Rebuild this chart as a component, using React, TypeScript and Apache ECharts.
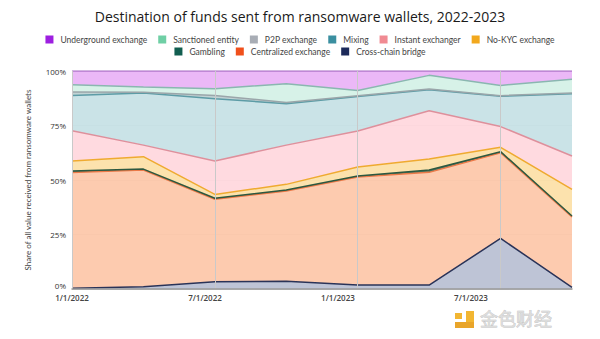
import React, { useEffect, useRef } from "react";
import * as echarts from "echarts";

const categories = ["2022-01", "2022-04", "2022-07", "2022-10", "2023-01", "2023-04", "2023-07", "2023-10"];
const tickLabels = ["1/1/2022", "7/1/2022", "1/1/2023", "7/1/2023"];
const yTicks = ["0%", "25%", "50%", "75%", "100%"];

const crossChain = [0.3, 1.0, 3.3, 3.6, 1.8, 1.8, 23.2, 0.8];
const centralized = [53.1, 53.6, 37.9, 41.4, 49.6, 51.7, 39.3, 32.2];
const gambling = [0.7, 0.4, 0.4, 0.4, 0.4, 1.1, 0.5, 0.5];
const noKyc = [4.6, 5.7, 1.8, 2.6, 4.2, 5.0, 2.0, 12.2];
const instant = [13.9, 5.3, 15.3, 18.0, 16.5, 22.2, 9.5, 15.3];
const mixing = [16.2, 23.9, 28.6, 19.0, 15.8, 9.6, 13.9, 28.6];
const p2p = [1.6, 0.3, 1.5, 0.5, 0.3, 0.3, 0.3, 0.3];
const sanctioned = [3.3, 2.5, 3.1, 8.7, 2.5, 6.3, 4.7, 6.3];
const underground = [6.3, 7.3, 8.1, 5.8, 8.9, 2.0, 6.6, 3.8];

const seriesDefs = [
  { name: "Cross-chain bridge", data: crossChain, legend: "#1c2a5a", line: "#2a3358", fill: "#b9bfd3" },
  { name: "Centralized exchange", data: centralized, legend: "#f0501c", line: "#ec7a48", fill: "#fdc7a8" },
  { name: "Gambling", data: gambling, legend: "#125e50", line: "#2c5840", fill: "#3d6a55" },
  { name: "No-KYC exchange", data: noKyc, legend: "#f2a81d", line: "#efaa30", fill: "#fce0a6" },
  { name: "Instant exchanger", data: instant, legend: "#f08a92", line: "#de909c", fill: "#ffd7dd" },
  { name: "Mixing", data: mixing, legend: "#3a8fa0", line: "#5d9ca6", fill: "#c6e1e5" },
  { name: "P2P exchange", data: p2p, legend: "#a8adb5", line: "#9aa6aa", fill: "#bccfd0" },
  { name: "Sanctioned entity", data: sanctioned, legend: "#6fcfa5", line: "#8ab7b0", fill: "#d4f1e6" },
  { name: "Underground exchange", data: underground, legend: "#9d1fe0", line: "#b27acb", fill: "#e9b2f6" },
];

const legendRow1 = ["Underground exchange", "Sanctioned entity", "P2P exchange", "Mixing", "Instant exchanger", "No-KYC exchange"];
const legendRow2 = ["Gambling", "Centralized exchange", "Cross-chain bridge"];

const FONT = "'Open Sans', 'Noto Sans', sans-serif";
const LFONT = "Lato, 'Open Sans', sans-serif";

export default function App() {
  const ref = useRef<HTMLDivElement>(null);
  useEffect(() => {
    if (!ref.current) return;
    const chart = echarts.init(ref.current, undefined, { renderer: "svg" });
    const legendItem = (n: string) => {
      const d = seriesDefs.find((s) => s.name === n)!;
      return { name: n, itemStyle: { color: d.legend, borderWidth: 0 } };
    };
    const legendCommon = {
      icon: "rect",
      itemWidth: 8,
      itemHeight: 8,
      itemGap: 11,
      textStyle: { fontSize: 8.5, color: "#444", fontFamily: LFONT, padding: [0, 0, 0, 2] },
      left: "center",
    };
    chart.setOption({
      animation: false,
      backgroundColor: "#ffffff",
      title: {
        text: "Destination of funds sent from ransomware wallets, 2022-2023",
        left: "center",
        top: 4,
        textStyle: { fontSize: 14, fontWeight: "normal", color: "#1a1a1a", fontFamily: FONT },
      },
      legend: [
        { ...legendCommon, top: 30, data: legendRow1.map(legendItem) },
        { ...legendCommon, top: 42, data: legendRow2.map(legendItem) },
      ],
      grid: { left: 72, right: 28, top: 71, bottom: 50 },
      xAxis: [
        {
          type: "category",
          data: categories,
          boundaryGap: false,
          axisLine: { show: true, lineStyle: { color: "#9a9a9a", width: 1.5 } },
          axisTick: { show: false },
          axisLabel: { show: false },
          splitLine: { show: true, interval: 1, lineStyle: { color: "#c9c9c9", width: 1 } },
          z: 5,
        },
        {
          type: "value",
          position: "bottom",
          min: 0,
          max: 3.76,
          interval: 1,
          axisLine: { show: false },
          axisTick: { show: false },
          splitLine: { show: false },
          axisLabel: {
            show: true,
            margin: 4,
            fontSize: 8,
            color: "#444",
            fontWeight: 600,
            fontFamily: FONT,
            formatter: (v: number) => (Number.isInteger(v) && tickLabels[v] ? tickLabels[v] : ""),
            showMaxLabel: false,
          },
        },
      ],
      yAxis: {
        type: "value",
        min: 0,
        max: 100,
        interval: 25,
        name: "Share of all value received from ransomware wallets",
        nameLocation: "middle",
        nameGap: 40,
        nameTextStyle: { fontSize: 8, color: "#444", fontFamily: LFONT },
        axisLine: { show: false },
        axisTick: { show: false },
        axisLabel: {
          fontSize: 8,
          color: "#333",
          margin: 6,
          fontFamily: FONT,
          formatter: (v: number) => (v === 0 ? "{z|0%}" : yTicks[Math.round(v / 25)]),
          rich: { z: { fontSize: 8, color: "#333", fontFamily: FONT, padding: [0, 0, 7, 0] } },
        },
        splitLine: { show: true, lineStyle: { color: "#d0d0d0", width: 1 } },
      },
      series: seriesDefs.map((s) => ({
        name: s.name,
        type: "line",
        stack: "total",
        xAxisIndex: 0,
        data: s.data,
        showSymbol: false,
        symbol: "none",
        itemStyle: { color: s.legend },
        lineStyle: { color: s.line, width: 1.5 },
        areaStyle: { color: s.fill, opacity: 0.92 },
      })),
      graphic: [
        { type: "rect", shape: { x: 455, y: 313, width: 7, height: 6 }, style: { fill: "#f2b632" } },
        { type: "rect", shape: { x: 466, y: 311, width: 8, height: 17 }, style: { fill: "#f2b632" } },
        { type: "rect", shape: { x: 455, y: 322, width: 19, height: 6 }, style: { fill: "#e9a52a" } },
        {
          type: "text",
          x: 480,
          y: 309,
          style: {
            text: "金色财经",
            fontSize: 18,
            fill: "#dcdcdc",
            stroke: "#bdbdbd",
            lineWidth: 0.6,
            fontFamily: "'Noto Sans CJK SC', sans-serif",
          },
        },
      ],
    });
    return () => chart.dispose();
  }, []);
  return <div ref={ref} style={{ width: 600, height: 339, position: "absolute", left: 0, top: 0 }} />;
}
